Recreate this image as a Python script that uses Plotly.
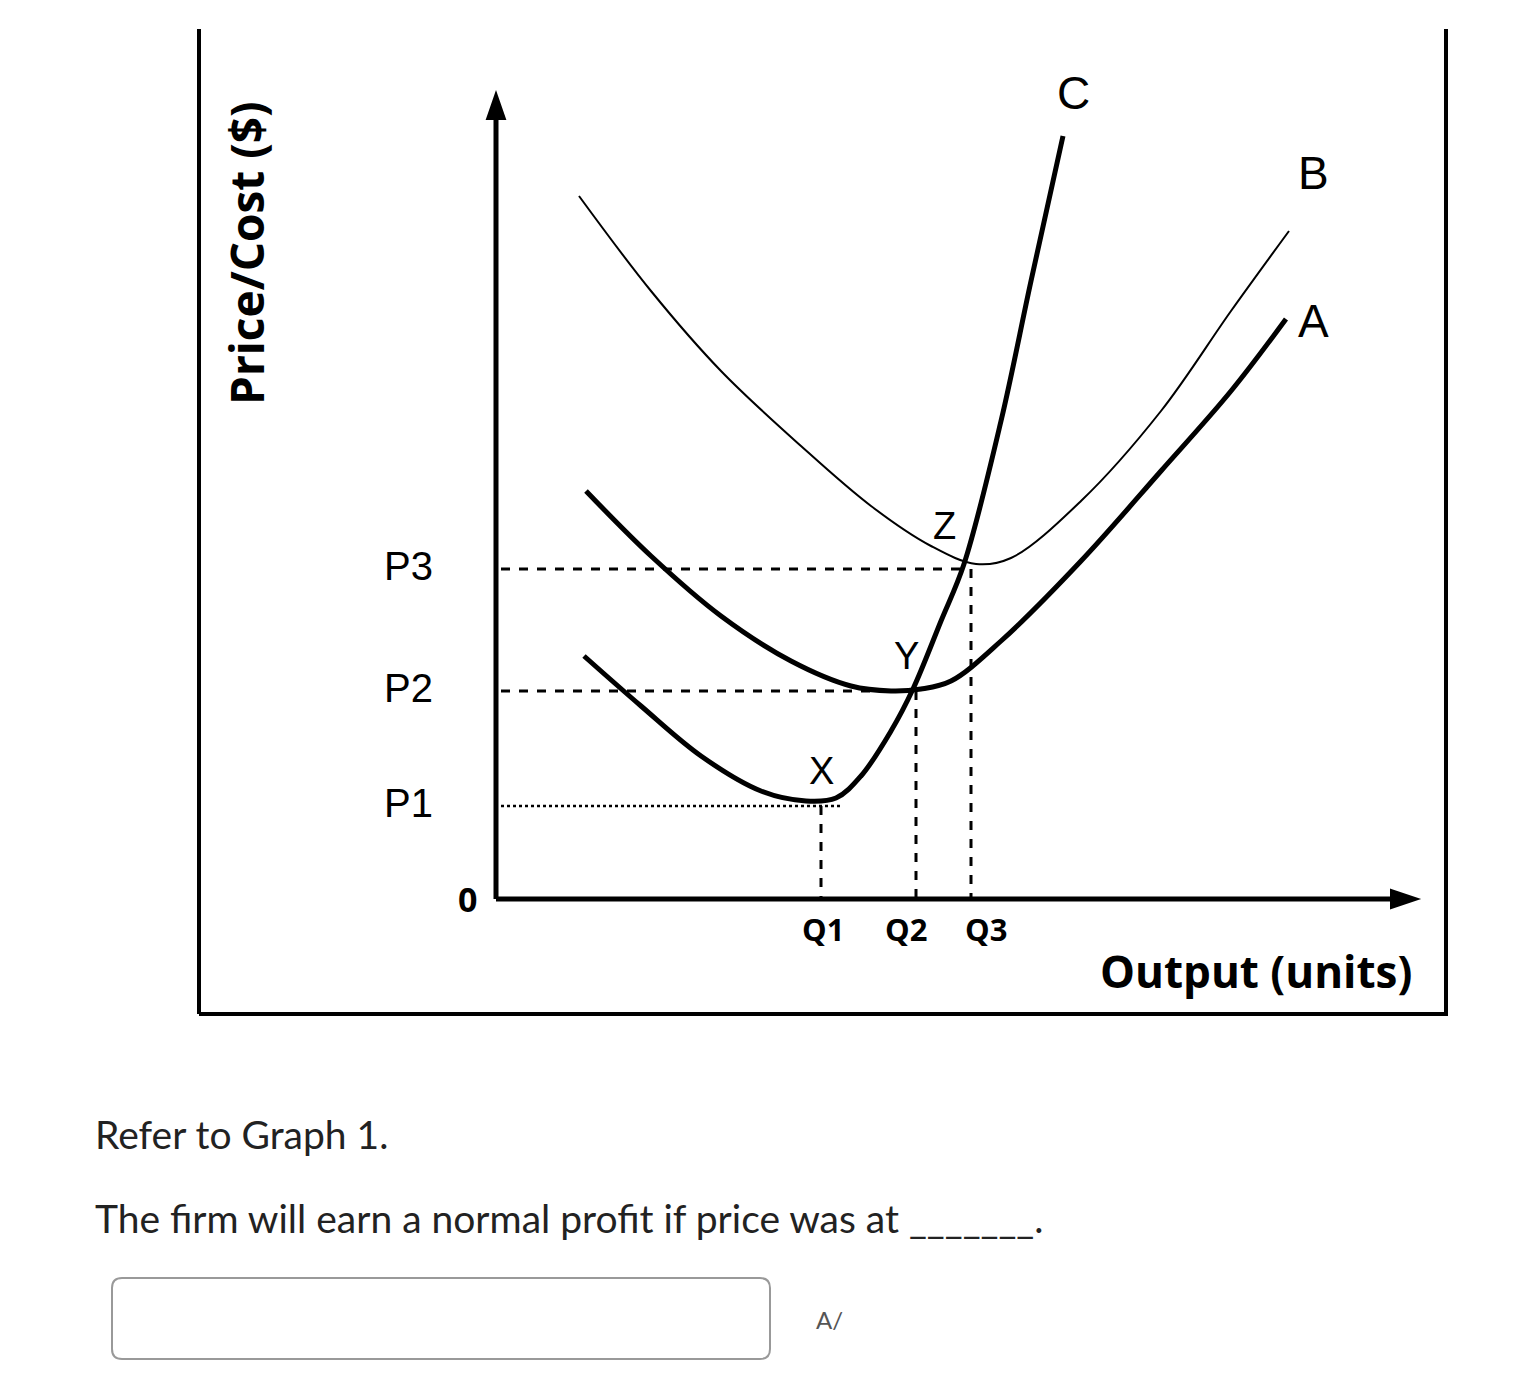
import plotly.graph_objects as go

W, H = 1534, 1394
OFF = 7
# curves in drawing units (x right, y down)
upper_x = [578, 650, 720, 800, 870, 930, 975, 1010, 1080, 1160, 1230, 1288]
upper_y = [195, 290, 370, 445, 505, 545, 563, 557, 500, 410, 310, 230]
mid_x = [585, 650, 720, 790, 850, 890, 920, 950, 1000, 1080, 1160, 1230, 1285]
mid_y = [490, 555, 615, 660, 685, 690, 688, 680, 640, 560, 470, 390, 318]
mc_x = [583, 640, 700, 760, 805, 835, 860, 890, 912, 940, 963, 1000, 1030, 1062]
mc_y = [655, 705, 755, 790, 800, 797, 775, 730, 688, 620, 563, 420, 280, 135]

price_labels = ["P3", "P2", "P1"]
price_y = [568, 690, 805]
price_end = [963, 912, 840]
q_labels = ["Q1", "Q2", "Q3"]
q_x = [820, 915, 970]
q_top = [805, 690, 568]

fig = go.Figure()
fig.add_trace(go.Scatter(x=upper_x, y=upper_y, mode="lines", line=dict(color="black", width=2, shape="spline")))
fig.add_trace(go.Scatter(x=mid_x, y=mid_y, mode="lines", line=dict(color="black", width=5, shape="spline")))
fig.add_trace(go.Scatter(x=mc_x, y=mc_y, mode="lines", line=dict(color="black", width=5, shape="spline")))

shapes = []
def line(x0, y0, x1, y1, w=3, dash="solid"):
    shapes.append(dict(type="line", x0=x0, y0=y0, x1=x1, y1=y1, xref="x", yref="y",
                       line=dict(color="black", width=w, dash=dash)))
line(198, 28, 198, 1013, 4); line(198, 1013, 1447, 1013, 4); line(1445, 28, 1445, 1013, 4)
line(495, 898, 495, 110, 5); line(495, 898, 1395, 898, 5)
shapes.append(dict(type="path", path="M 486 118 L 495 92 L 504 118 Z", fillcolor="black", line=dict(color="black")))
shapes.append(dict(type="path", path="M 1390 889 L 1417 898 L 1390 907 Z", fillcolor="black", line=dict(color="black")))
for i, (py, pe) in enumerate(zip(price_y, price_end)):
    line(500, py, pe, py, 3 if i < 2 else 2.5, "dash" if i < 2 else "dot")
for qx, qt in zip(q_x, q_top):
    line(qx, qt, qx, 898, 3, "dash")
shapes.append(dict(type="path", path="M 121 1277 L 759 1277 Q 769 1277 769 1287 L 769 1348 Q 769 1358 759 1358 L 121 1358 Q 111 1358 111 1348 L 111 1287 Q 111 1277 121 1277 Z",
                   line=dict(color="#999", width=2)))

ann = []
def txt(x, y, s, size, bold=False, font="Liberation Sans", angle=0, anchor="center", color="black"):
    ann.append(dict(x=x, y=y, text=f"<b>{s}</b>" if bold else s, showarrow=False, xref="x", yref="y",
                    font=dict(size=size, family=font, color=color), textangle=angle, xanchor=anchor))
for lab, py in zip(price_labels, price_y):
    txt(407, py - 3, lab, 40)
txt(466, 898, "0", 34, True, "Open Sans")
for lab, qx in zip(q_labels, [822, 905, 985]):
    txt(qx, 928, lab, 31, True, "Open Sans")
txt(1255, 970, "Output (units)", 44, True, "Open Sans")
txt(245, 252, "Price/Cost ($)", 46, True, "Open Sans", -90)
for s, x, y in [("C", 1072, 92), ("B", 1312, 172), ("A", 1312, 320), ("Z", 943, 525), ("Y", 905, 655), ("X", 820, 770)]:
    txt(x, y, s, 46 if s in "CBA" else 38)
txt(92, 1133, "Refer to Graph 1.", 39, False, "Lato", anchor="left", color="#222")
txt(92, 1217, "The firm will earn a normal profit if price was at _______.", 39, False, "Lato", anchor="left", color="#222")
txt(828, 1318, "A/", 24, False, "Lato", color="#555")

fig.update_layout(width=W, height=H, margin=dict(l=0, r=0, t=0, b=0), showlegend=False,
                  plot_bgcolor="white", paper_bgcolor="white", shapes=shapes, annotations=ann,
                  xaxis=dict(range=[OFF, W + OFF], visible=False),
                  yaxis=dict(range=[H + OFF, OFF], visible=False))
fig.write_html("out.html")
